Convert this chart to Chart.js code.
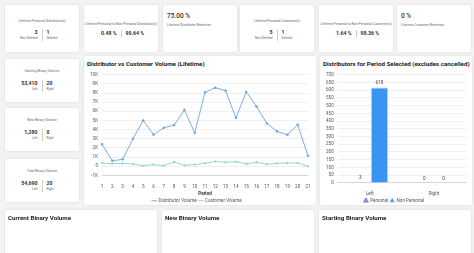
<!DOCTYPE html>
<html>
<head>
<meta charset="utf-8">
<script src="https://cdn.jsdelivr.net/npm/chart.js@4"></script>
<style>
  body { margin: 0; width: 474px; height: 253px; overflow: hidden; background: #f3f3f3; font-family: Roboto, Arial, sans-serif; position: relative; }
  .card { position: absolute; background: #fff; border-radius: 2px; box-shadow: 0 0 3px rgba(0,0,0,0.10); }
  .ttl { position: absolute; left: 0; right: 0; text-align: center; font-size: 3.4px; color: #666; white-space: nowrap; }
  .pair { position: absolute; left: 0; right: 0; display: flex; justify-content: center; }
  .pair .col { width: 26px; text-align: center; }
  .pair .col.l { text-align: right; padding-right: 4px; }
  .pair .col.r { text-align: left; padding-left: 4px; border-left: 0.6px solid #ccc; }
  .num { font-size: 5.2px; font-weight: bold; color: #333; line-height: 7px; }
  .sub { font-size: 3.2px; color: #666; line-height: 5px; }
  .big { position: absolute; left: 4px; top: 7px; font-size: 6.5px; color: #333; font-weight: 500; }
  .bigsub { position: absolute; left: 4px; top: 18px; font-size: 3.4px; color: #666; white-space: nowrap; }
  .head { position: absolute; left: 3px; top: 4px; font-size: 6.2px; font-weight: bold; color: #222; white-space: nowrap; }
</style>
</head>
<body>
<script>
// line chart data
var periods = ["1","2","3","4","5","6","7","8","9","10","11","12","13","14","15","16","17","18","19","20","21"];
var distributorVolume = [2400, 600, 750, 3000, 5000, 3450, 4200, 4500, 6150, 3650, 8080, 8580, 8260, 5280, 8120, 6520, 4680, 3800, 3440, 4540, 1130];
var customerVolume = [350, 280, 300, 250, 50, 180, 70, 460, 100, 180, 320, 530, 430, 500, 250, 430, 210, 320, 350, 350, 0];

// bar chart data
var sides = ["Left", "Right"];
var personal = [3, 0];
var nonPersonal = [618, 0];

// top stat cards
var topCards = [
  { title: "Lifetime Personal Distributor(s)", a: "3", b: "1", la: "Non Deleted", lb: "Deleted" },
  { title: "Lifetime Personal to Non Personal Distributor(s)", a: "0.48 %", b: "99.64 %" },
  { big: "75.00 %", title: "Lifetime Distributor Retention" },
  { title: "Lifetime Personal Customer(s)", a: "5", b: "1", la: "Non Deleted", lb: "Deleted" },
  { title: "Lifetime Personal to Non Personal Customer(s)", a: "1.64 %", b: "98.36 %" },
  { big: "0 %", title: "Lifetime Customer Retention" }
];
var sideCards = [
  { title: "Starting Binary Volume", a: "53,410", b: "20" },
  { title: "New Binary Volume", a: "1,280", b: "0" },
  { title: "Total Binary Volume", a: "54,690", b: "20" }
];
var bottomTitles = ["Current Binary Volume", "New Binary Volume", "Starting Binary Volume"];

function card(x, y, w, h) {
  var d = document.createElement("div");
  d.className = "card";
  d.style.left = x + "px"; d.style.top = y + "px";
  d.style.width = w + "px"; d.style.height = h + "px";
  document.body.appendChild(d);
  return d;
}

function pairHtml(c, top) {
  return '<div class="pair" style="top:' + top + 'px">' +
    '<div class="col l"><div class="num">' + c.a + '</div>' + (c.la ? '<div class="sub">' + c.la + '</div>' : '') + '</div>' +
    '<div class="col r"><div class="num">' + c.b + '</div>' + (c.lb ? '<div class="sub">' + c.lb + '</div>' : '') + '</div></div>';
}

var topX = [5, 84, 163, 240, 319, 397];
topCards.forEach(function (c, i) {
  var d = card(topX[i], 5, 74, 47);
  if (c.big) {
    d.innerHTML = '<div class="big">' + c.big + '</div><div class="bigsub">' + c.title + '</div>';
  } else if (c.la) {
    d.innerHTML = '<div class="ttl" style="top:14px">' + c.title + '</div>' + pairHtml(c, 24);
  } else {
    d.innerHTML = '<div class="ttl" style="top:17px">' + c.title + '</div>' + pairHtml(c, 25);
  }
});

var sideY = [59, 108, 159];
sideCards.forEach(function (c, i) {
  var d = card(5, sideY[i], 74, 43);
  c.la = "Left"; c.lb = "Right";
  d.innerHTML = '<div class="ttl" style="top:10px">' + c.title + '</div>' + pairHtml(c, 21);
});

// chart cards
var lc = card(84, 56, 232, 149);
lc.innerHTML = '<div class="head">Distributor vs Customer Volume (Lifetime)</div>' +
  '<div style="position:absolute;left:0;top:12px;width:230px;height:145px"><canvas id="lineChart"></canvas></div>';
var bc = card(320, 56, 152, 149);
bc.innerHTML = '<div class="head">Distributors for Period Selected (excludes cancelled)</div>' +
  '<div style="position:absolute;left:0;top:12px;width:150px;height:145px"><canvas id="barChart"></canvas></div>';

var bottomX = [5, 162, 319];
bottomTitles.forEach(function (t, i) {
  var d = card(bottomX[i], 210, 152, 60);
  d.innerHTML = '<div class="head">' + t + '</div>';
});

Chart.defaults.font.family = "Roboto, Arial, sans-serif";
Chart.defaults.font.size = 4.6;
Chart.defaults.color = "#555";

new Chart(document.getElementById("lineChart"), {
  type: "line",
  data: {
    labels: periods,
    datasets: [
      { label: "Distributor Volume", data: distributorVolume, borderColor: "#6fa4e2", backgroundColor: "#6fa4e2", borderWidth: 0.9, pointRadius: 0.9, tension: 0 },
      { label: "Customer Volume", data: customerVolume, borderColor: "#84d6cb", backgroundColor: "#84d6cb", borderWidth: 0.9, pointRadius: 0.7, tension: 0 }
    ]
  },
  options: {
    responsive: true,
    maintainAspectRatio: false,
    animation: false,
    layout: { padding: { left: 2, right: 6, top: 3, bottom: 0 } },
    plugins: {
      legend: { position: "bottom", labels: { usePointStyle: true, pointStyle: "line", boxWidth: 4, boxHeight: 4, padding: 2, font: { size: 4.6 } } },
      tooltip: { enabled: false }
    },
    scales: {
      y: {
        min: -1000, max: 10000,
        ticks: { stepSize: 1000, padding: 4, autoSkip: false, callback: function (v) { return v === 0 ? "0" : (v / 1000) + "K"; } },
        grid: { color: "#efefef", drawTicks: false },
        border: { display: false }
      },
      x: {
        grid: { display: false },
        ticks: { padding: 1, autoSkip: false, maxRotation: 0, minRotation: 0 },
        title: { display: true, text: "Period", font: { size: 4.6, weight: "bold" }, padding: 0, color: "#333" }
      }
    }
  }
});

var valueLabels = {
  id: "valueLabels",
  afterDatasetsDraw: function (chart) {
    var ctx = chart.ctx;
    ctx.save();
    ctx.font = "4.6px Roboto, Arial, sans-serif";
    ctx.fillStyle = "#444";
    ctx.textAlign = "center";
    ctx.textBaseline = "bottom";
    chart.data.datasets.forEach(function (ds, i) {
      chart.getDatasetMeta(i).data.forEach(function (bar, j) {
        ctx.fillText(ds.data[j], bar.x, bar.y - 2);
      });
    });
    ctx.restore();
  }
};

new Chart(document.getElementById("barChart"), {
  type: "bar",
  data: {
    labels: sides,
    datasets: [
      { label: "Personal", data: personal, backgroundColor: "#a597e0", borderColor: "#8f80d6", borderWidth: 1, categoryPercentage: 0.6, barPercentage: 0.9 },
      { label: "Non Personal", data: nonPersonal, backgroundColor: "#3a94f2", borderColor: "#a9d1fb", borderWidth: 1, categoryPercentage: 0.6, barPercentage: 0.9 }
    ]
  },
  plugins: [valueLabels],
  options: {
    responsive: true,
    maintainAspectRatio: false,
    animation: false,
    layout: { padding: { left: 2, right: 4, top: 3, bottom: 0 } },
    plugins: {
      legend: { position: "bottom", labels: { usePointStyle: true, pointStyle: "triangle", boxWidth: 4, boxHeight: 4, padding: 2, font: { size: 4.6 } } },
      tooltip: { enabled: false }
    },
    scales: {
      y: {
        min: 0, max: 700,
        ticks: { stepSize: 50, padding: 4, autoSkip: false },
        grid: { color: "#efefef", drawTicks: false },
        border: { display: false }
      },
      x: {
        grid: { display: false },
        ticks: { padding: 0 }
      }
    }
  }
});
</script>
</body>
</html>
